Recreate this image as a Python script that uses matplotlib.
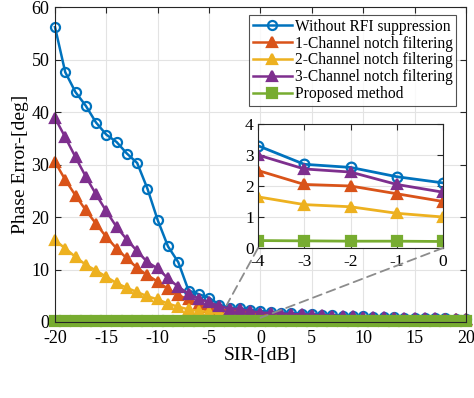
import numpy as np
import matplotlib.pyplot as plt
from matplotlib.patches import ConnectionPatch

plt.rcParams['font.family'] = ['Liberation Serif', 'DejaVu Serif']
plt.rcParams['axes.unicode_minus'] = False

# SIR values (dB)
sir = list(range(-20, 21))

# phase error (deg)
no_rfi = [56.2, 47.6, 43.8, 41.2, 38.0, 35.7, 34.3, 32.1, 30.3, 25.4, 19.4,
          14.4, 11.4, 6.0, 5.3, 4.6, 3.3, 2.7, 2.6, 2.3, 2.1,
          1.95, 1.8, 1.7, 1.6, 1.5, 1.4, 1.3, 1.22, 1.15, 1.1,
          1.02, 0.96, 0.9, 0.85, 0.8, 0.76, 0.72, 0.68, 0.65, 0.6]
notch1 = [30.5, 27.1, 24.1, 21.3, 18.7, 16.2, 14.0, 12.1, 10.3, 8.9, 7.7,
          6.3, 5.1, 4.3, 3.5, 2.9, 2.5, 2.05, 2.0, 1.75, 1.5,
          1.4, 1.32, 1.25, 1.18, 1.1, 1.04, 0.98, 0.92, 0.87, 0.82,
          0.78, 0.74, 0.7, 0.66, 0.63, 0.6, 0.57, 0.54, 0.52, 0.5]
notch2 = [15.6, 14.0, 12.4, 10.9, 9.8, 8.6, 7.4, 6.5, 5.7, 4.9, 4.3,
          3.5, 2.9, 2.4, 2.1, 1.9, 1.65, 1.4, 1.33, 1.12, 1.0,
          0.95, 0.9, 0.86, 0.82, 0.78, 0.74, 0.7, 0.67, 0.64, 0.61,
          0.58, 0.55, 0.52, 0.5, 0.48, 0.46, 0.44, 0.42, 0.41, 0.4]
notch3 = [38.9, 35.2, 31.4, 27.7, 24.3, 21.1, 18.1, 15.7, 13.5, 11.4, 10.2,
          8.3, 6.7, 5.4, 4.4, 3.8, 3.0, 2.55, 2.45, 2.05, 1.8,
          1.7, 1.6, 1.52, 1.44, 1.36, 1.28, 1.2, 1.13, 1.06, 1.0,
          0.95, 0.9, 0.85, 0.8, 0.76, 0.72, 0.68, 0.64, 0.6, 0.57]
proposed = [0.25, 0.25, 0.25, 0.25, 0.25, 0.25, 0.25, 0.25, 0.25, 0.25, 0.25,
            0.25, 0.25, 0.25, 0.24, 0.24, 0.24, 0.23, 0.22, 0.22, 0.21,
            0.21, 0.21, 0.21, 0.2, 0.2, 0.2, 0.2, 0.2, 0.2, 0.2,
            0.2, 0.2, 0.2, 0.2, 0.2, 0.2, 0.2, 0.2, 0.2, 0.2]

labels = ['Without RFI suppression', '1-Channel notch filtering',
          '2-Channel notch filtering', '3-Channel notch filtering',
          'Proposed method']

# MATLAB default colours
colors = ['#0072BD', '#D95319', '#EDB120', '#7E2F8E', '#77AC30']
series = [no_rfi, notch1, notch2, notch3, proposed]
markers = ['o', '^', '^', '^', 's']


def draw(ax, x, ms, lw, clip=True):
    for y, c, m, lab in zip(series, colors, markers, labels):
        face = 'none' if m == 'o' else c
        ax.plot(x, y, color=c, marker=m, markersize=ms, linewidth=lw,
                markerfacecolor=face, markeredgewidth=1.6, label=lab,
                clip_on=clip)


def style(ax, fs):
    ax.grid(True, color='#e3e3e3', linewidth=0.8)
    ax.set_axisbelow(True)
    ax.tick_params(direction='in', top=True, right=True, labelsize=fs,
                   color='#262626', length=4)
    for s in ax.spines.values():
        s.set_color('#262626')
        s.set_linewidth(0.8)


fig = plt.figure(figsize=(4.74, 3.98), dpi=100)
ax = fig.add_axes([0.116, 0.191, 0.867, 0.791])
draw(ax, sir, 6.5, 1.8, clip=False)
ax.set_xlim(-20, 20)
ax.set_ylim(0, 60)
ax.set_xticks(np.arange(-20, 21, 5))
ax.set_yticks(np.arange(0, 61, 10))
style(ax, 13)
ax.tick_params(axis='x', pad=6)
ax.tick_params(axis='y', pad=4)
ax.set_xlabel('SIR-[dB]', fontsize=14, labelpad=0)
ax.set_ylabel('Phase Error-[deg]', fontsize=14, labelpad=2)

leg = ax.legend(loc='upper right', bbox_to_anchor=(0.977, 0.975), fontsize=11.2,
                frameon=True, fancybox=False, handlelength=2.5,
                handletextpad=0.2, borderpad=0.25, labelspacing=0.05,
                borderaxespad=0.0)
leg.get_frame().set_edgecolor('#262626')
leg.get_frame().set_linewidth(0.8)

# zoomed inset for SIR -4..0
ins = fig.add_axes([258 / 474, 1 - 248 / 398, 185 / 474, 124 / 398])
draw(ins, sir, 7, 2.0)
ins.set_xlim(-4, 0)
ins.set_ylim(0, 4)
ins.set_xticks(range(-4, 1))
ins.set_yticks(range(0, 5))
style(ins, 12.5)
ins.tick_params(axis='x', pad=4)
ins.tick_params(axis='y', pad=3)
ins.set_facecolor('white')

for xa, xb, yb in [(-4, -3.3, 3.2), (0, 0.0, 0.8)]:
    con = ConnectionPatch(xyA=(xa, 0), coordsA=ins.transData,
                          xyB=(xb, yb), coordsB=ax.transData,
                          color='#8c8c8c', linestyle=(0, (5, 3)), linewidth=1.3)
    fig.add_artist(con)

fig.savefig('out.png', dpi=100)
